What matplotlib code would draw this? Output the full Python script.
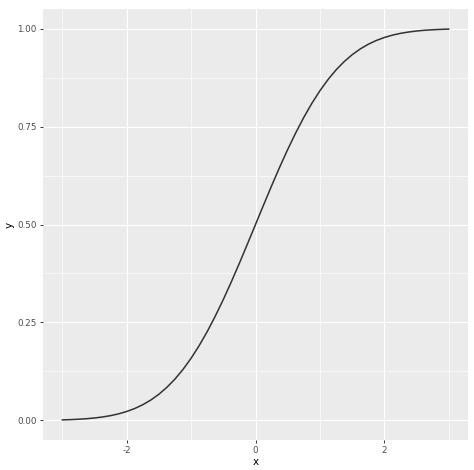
import matplotlib
matplotlib.use('Agg')
import matplotlib.pyplot as plt
from matplotlib.ticker import MultipleLocator

# values
x_vals = [-3, -2.875, -2.75, -2.625, -2.5, -2.375, -2.25, -2.125, -2, -1.875, -1.75, -1.625,
          -1.5, -1.375, -1.25, -1.125, -1, -0.875, -0.75, -0.625, -0.5, -0.375, -0.25, -0.125,
          0, 0.125, 0.25, 0.375, 0.5, 0.625, 0.75, 0.875, 1, 1.125, 1.25, 1.375,
          1.5, 1.625, 1.75, 1.875, 2, 2.125, 2.25, 2.375, 2.5, 2.625, 2.75, 2.875, 3]
y_vals = [0.0013, 0.0020, 0.0030, 0.0043, 0.0062, 0.0088, 0.0122, 0.0168, 0.0228, 0.0304, 0.0401, 0.0521,
          0.0668, 0.0846, 0.1056, 0.1303, 0.1587, 0.1908, 0.2266, 0.2660, 0.3085, 0.3538, 0.4013, 0.4503,
          0.5000, 0.5497, 0.5987, 0.6462, 0.6915, 0.7340, 0.7734, 0.8092, 0.8413, 0.8697, 0.8944, 0.9154,
          0.9332, 0.9479, 0.9599, 0.9696, 0.9772, 0.9832, 0.9878, 0.9912, 0.9938, 0.9957, 0.9970, 0.9980, 0.9987]
x_ticks = [-2, 0, 2]
y_ticks = [0.0, 0.25, 0.5, 0.75, 1.0]
y_labels = ["0.00", "0.25", "0.50", "0.75", "1.00"]

W, H = 474, 470
fig = plt.figure(figsize=(W / 100, H / 100), dpi=100)
ax = fig.add_axes([43 / W, 30 / H, (468 - 43) / W, (440 - 9) / H])
ax.set_facecolor("#EBEBEB")

ax.plot(x_vals, y_vals, color="#333333", lw=1.1, zorder=3)

ax.set_xlim(-3.3, 3.3)
ax.set_ylim(-0.05, 1.05)
ax.set_xticks(x_ticks)
ax.set_xticklabels([str(t) for t in x_ticks])
ax.set_yticks(y_ticks)
ax.set_yticklabels(y_labels)
ax.xaxis.set_minor_locator(MultipleLocator(1))
ax.yaxis.set_minor_locator(MultipleLocator(0.125))

ax.grid(which="major", color="white", lw=0.85)
ax.grid(which="minor", color="white", lw=0.45)
ax.set_axisbelow(True)
for s in ax.spines.values():
    s.set_visible(False)

ax.tick_params(which="major", length=2.5, width=0.7, color="#333333",
               labelsize=6.3, labelcolor="#4D4D4D", pad=2)
ax.tick_params(which="minor", length=0)

ax.set_xlabel("x", fontsize=7.5, labelpad=1)
ax.set_ylabel("y", fontsize=7.5, labelpad=2)

fig.savefig("out.png", dpi=100)
